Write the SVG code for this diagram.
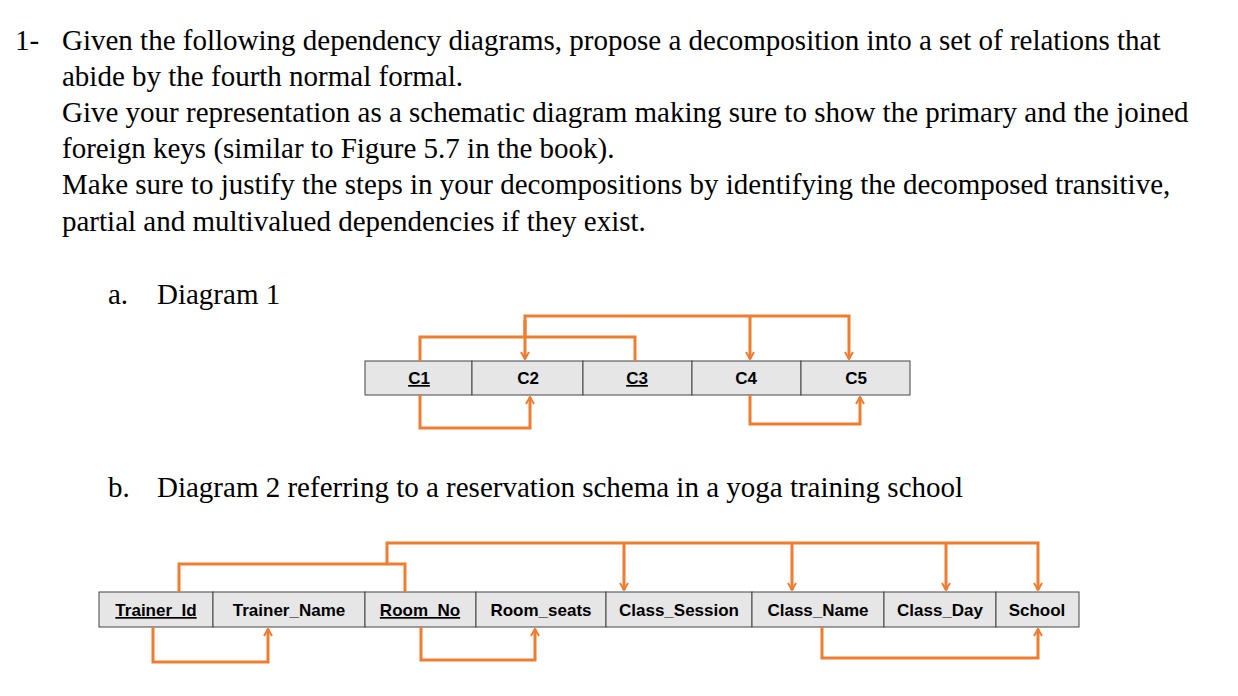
<svg xmlns="http://www.w3.org/2000/svg" width="1238" height="696" viewBox="0 0 1238 696">
<style>
.t{font-family:"Liberation Serif",serif;font-size:29px;fill:#000}
.c{font-family:"Liberation Sans",sans-serif;font-size:17px;font-weight:bold;fill:#000;text-anchor:middle}
.cell{fill:#e6e6e6;stroke:#444;stroke-width:1}
.ln{fill:none;stroke:#ed7d31;stroke-width:3}
</style>
<defs>
<marker id="a" viewBox="0 0 10 10" refX="9" refY="5" markerWidth="10" markerHeight="10" markerUnits="userSpaceOnUse" orient="auto">
<path d="M2,1 L9,5 L2,9" fill="none" stroke="#ed7d31" stroke-width="2"/>
</marker>
</defs>
<rect width="1238" height="696" fill="#fff"/>
<g id="text">
<text class="t" x="15" y="50">1-</text>
<text class="t" x="62" y="50">Given the following dependency diagrams, propose a decomposition into a set of relations that</text>
<text class="t" x="62" y="86">abide by the fourth normal formal.</text>
<text class="t" x="62" y="122">Give your representation as a schematic diagram making sure to show the primary and the joined</text>
<text class="t" x="62" y="158">foreign keys (similar to Figure 5.7 in the book).</text>
<text class="t" x="62" y="194">Make sure to justify the steps in your decompositions by identifying the decomposed transitive,</text>
<text class="t" x="62" y="231">partial and multivalued dependencies if they exist.</text>
<text class="t" x="108" y="304">a.</text>
<text class="t" x="157" y="304">Diagram 1</text>
<text class="t" x="108" y="497">b.</text>
<text class="t" x="157" y="497">Diagram 2 referring to a reservation schema in a yoga training school</text>
</g>
<g id="d1">
<rect class="cell" x="365" y="361" width="107" height="34"/>
<rect class="cell" x="472" y="361" width="111" height="34"/>
<rect class="cell" x="583" y="361" width="109" height="34"/>
<rect class="cell" x="692" y="361" width="109" height="34"/>
<rect class="cell" x="801" y="361" width="109" height="34"/>
<text class="c" x="419" y="384" text-decoration="underline">C1</text>
<text class="c" x="528" y="384">C2</text>
<text class="c" x="637" y="384" text-decoration="underline">C3</text>
<text class="c" x="746" y="384">C4</text>
<text class="c" x="856" y="384">C5</text>
</g>
<g id="d2">
<rect class="cell" x="99" y="592" width="114" height="35"/>
<rect class="cell" x="213" y="592" width="152" height="35"/>
<rect class="cell" x="365" y="592" width="111" height="35"/>
<rect class="cell" x="476" y="592" width="130" height="35"/>
<rect class="cell" x="606" y="592" width="146" height="35"/>
<rect class="cell" x="752" y="592" width="132" height="35"/>
<rect class="cell" x="884" y="592" width="112" height="35"/>
<rect class="cell" x="996" y="592" width="83" height="35"/>
<text class="c" x="156" y="616" text-decoration="underline">Trainer_Id</text>
<text class="c" x="289" y="616">Trainer_Name</text>
<text class="c" x="420" y="616" text-decoration="underline">Room_No</text>
<text class="c" x="541" y="616">Room_seats</text>
<text class="c" x="679" y="616">Class_Session</text>
<text class="c" x="818" y="616">Class_Name</text>
<text class="c" x="940" y="616">Class_Day</text>
<text class="c" x="1037" y="616">School</text>
</g>
<g id="connectors">
<path class="ln" d="M420,361 V337 H635 V361"/>
<path class="ln" d="M525,337 V316 H849 V359" marker-end="url(#a)"/>
<path class="ln" d="M525,320 V359" marker-end="url(#a)"/>
<path class="ln" d="M750,316 V359" marker-end="url(#a)"/>
<path class="ln" d="M420,395 V428 H530 V397" marker-end="url(#a)"/>
<path class="ln" d="M750,395 V424 H860 V397" marker-end="url(#a)"/>
<path class="ln" d="M179,592 V564 H405 V592"/>
<path class="ln" d="M387,564 V543 H1038 V590" marker-end="url(#a)"/>
<path class="ln" d="M624,543 V590" marker-end="url(#a)"/>
<path class="ln" d="M792,543 V590" marker-end="url(#a)"/>
<path class="ln" d="M946,543 V590" marker-end="url(#a)"/>
<path class="ln" d="M153,627 V662 H268 V629" marker-end="url(#a)"/>
<path class="ln" d="M421,627 V660 H535 V629" marker-end="url(#a)"/>
<path class="ln" d="M822,627 V658 H1038 V629" marker-end="url(#a)"/>
</g>
</svg>
